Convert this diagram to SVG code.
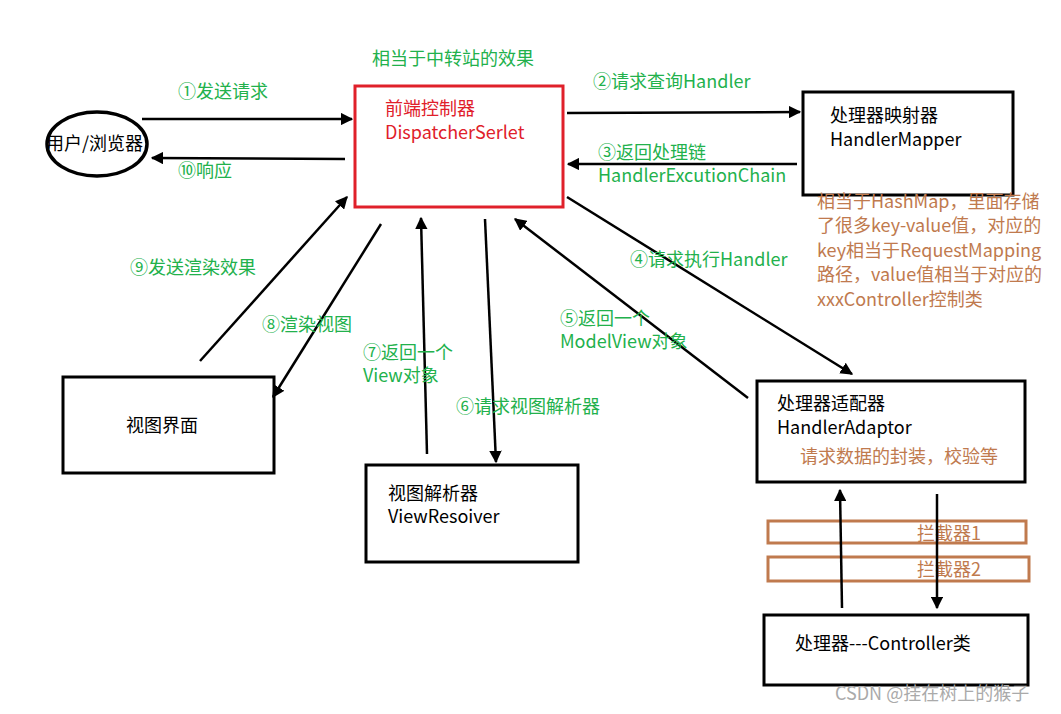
<svg xmlns="http://www.w3.org/2000/svg" width="1061" height="714" viewBox="0 0 1061 714">
<defs>
<marker id="a" viewBox="0 0 10 10" refX="9" refY="5" markerWidth="5" markerHeight="5" orient="auto"><path d="M0,0L10,5L0,10z" fill="#000"/></marker>
<style>
text{font-family:"Noto Sans CJK SC","Liberation Sans",sans-serif;font-size:18px}
.g{fill:#22b14c}.o{fill:#c07a4e}.r{fill:#e0202a}
.b{fill:#fff;stroke:#000;stroke-width:3}
line{stroke:#000;stroke-width:2.5;marker-end:url(#a)}
</style>
</defs>
<rect width="1061" height="714" fill="#fff"/>
<g id="user"><ellipse cx="97" cy="144" rx="50" ry="32" fill="#fff" stroke="#000" stroke-width="3.5"/><text x="46" y="150">用户/浏览器</text></g>
<g id="dispatcher"><rect x="355" y="86" width="208" height="121" fill="#fff" stroke="#e0202a" stroke-width="3"/><text class="r" x="385" y="115">前端控制器</text><text class="r" x="385" y="139">DispatcherSerlet</text></g>
<g id="mapper"><rect class="b" x="803" y="92" width="210" height="103"/><text x="830" y="122">处理器映射器</text><text x="830" y="146">HandlerMapper</text></g>
<g id="adaptor"><rect class="b" x="757" y="381" width="268" height="101"/><text x="777" y="410">处理器适配器</text><text x="777" y="434">HandlerAdaptor</text><text class="o" x="800" y="463">请求数据的封装，校验等</text></g>
<g id="view"><rect class="b" x="63" y="377" width="211" height="96"/><text x="126" y="432">视图界面</text></g>
<g id="resolver"><rect class="b" x="366" y="465" width="212" height="97"/><text x="388" y="500">视图解析器</text><text x="388" y="523">ViewResoiver</text></g>
<g id="controller"><rect class="b" x="764" y="615" width="264" height="70"/><text x="795" y="650">处理器---Controller类</text></g>
<g id="i1"><rect x="768" y="521" width="258" height="22" fill="none" stroke="#c07a4e" stroke-width="3"/><text class="o" x="917" y="540">拦截器1</text></g>
<g id="i2"><rect x="768" y="557" width="261" height="24" fill="none" stroke="#c07a4e" stroke-width="3"/><text class="o" x="917" y="576">拦截器2</text></g>
<g id="connectors">
<line x1="142" y1="119" x2="352" y2="119"/>
<line x1="345" y1="159" x2="152" y2="158"/>
<line x1="567" y1="113" x2="800" y2="112"/>
<line x1="797" y1="164" x2="568" y2="164"/>
<line x1="567" y1="197" x2="852" y2="374"/>
<line x1="748" y1="398" x2="515" y2="219"/>
<line x1="200" y1="361" x2="347" y2="197"/>
<line x1="381" y1="224" x2="273" y2="397"/>
<line x1="427" y1="454" x2="421" y2="218"/>
<line x1="485" y1="219" x2="496" y2="462"/>
<line x1="842" y1="608" x2="840" y2="490"/>
<line x1="937" y1="494" x2="937" y2="608"/>
</g>
<g id="labels">
<text class="g" x="372" y="65">相当于中转站的效果</text>
<text class="g" x="178" y="98">①发送请求</text>
<text class="g" x="178" y="177">⑩响应</text>
<text class="g" x="593" y="88">②请求查询Handler</text>
<text class="g" x="598" y="159">③返回处理链</text>
<text class="g" x="598" y="182">HandlerExcutionChain</text>
<text class="o" x="817" y="208">相当于HashMap，里面存储</text>
<text class="o" x="817" y="232">了很多key-value值，对应的</text>
<text class="o" x="817" y="257">key相当于RequestMapping</text>
<text class="o" x="817" y="281">路径，value值相当于对应的</text>
<text class="o" x="817" y="306">xxxController控制类</text>
<text class="g" x="630" y="266">④请求执行Handler</text>
<text class="g" x="560" y="325">⑤返回一个</text>
<text class="g" x="560" y="348">ModelView对象</text>
<text class="g" x="130" y="274">⑨发送渲染效果</text>
<text class="g" x="262" y="331">⑧渲染视图</text>
<text class="g" x="363" y="359">⑦返回一个</text>
<text class="g" x="363" y="382">View对象</text>
<text class="g" x="456" y="413">⑥请求视图解析器</text>
<text x="835" y="700" fill="#aaa" style="font-size:18px">CSDN @挂在树上的猴子</text>
</g>
</svg>
